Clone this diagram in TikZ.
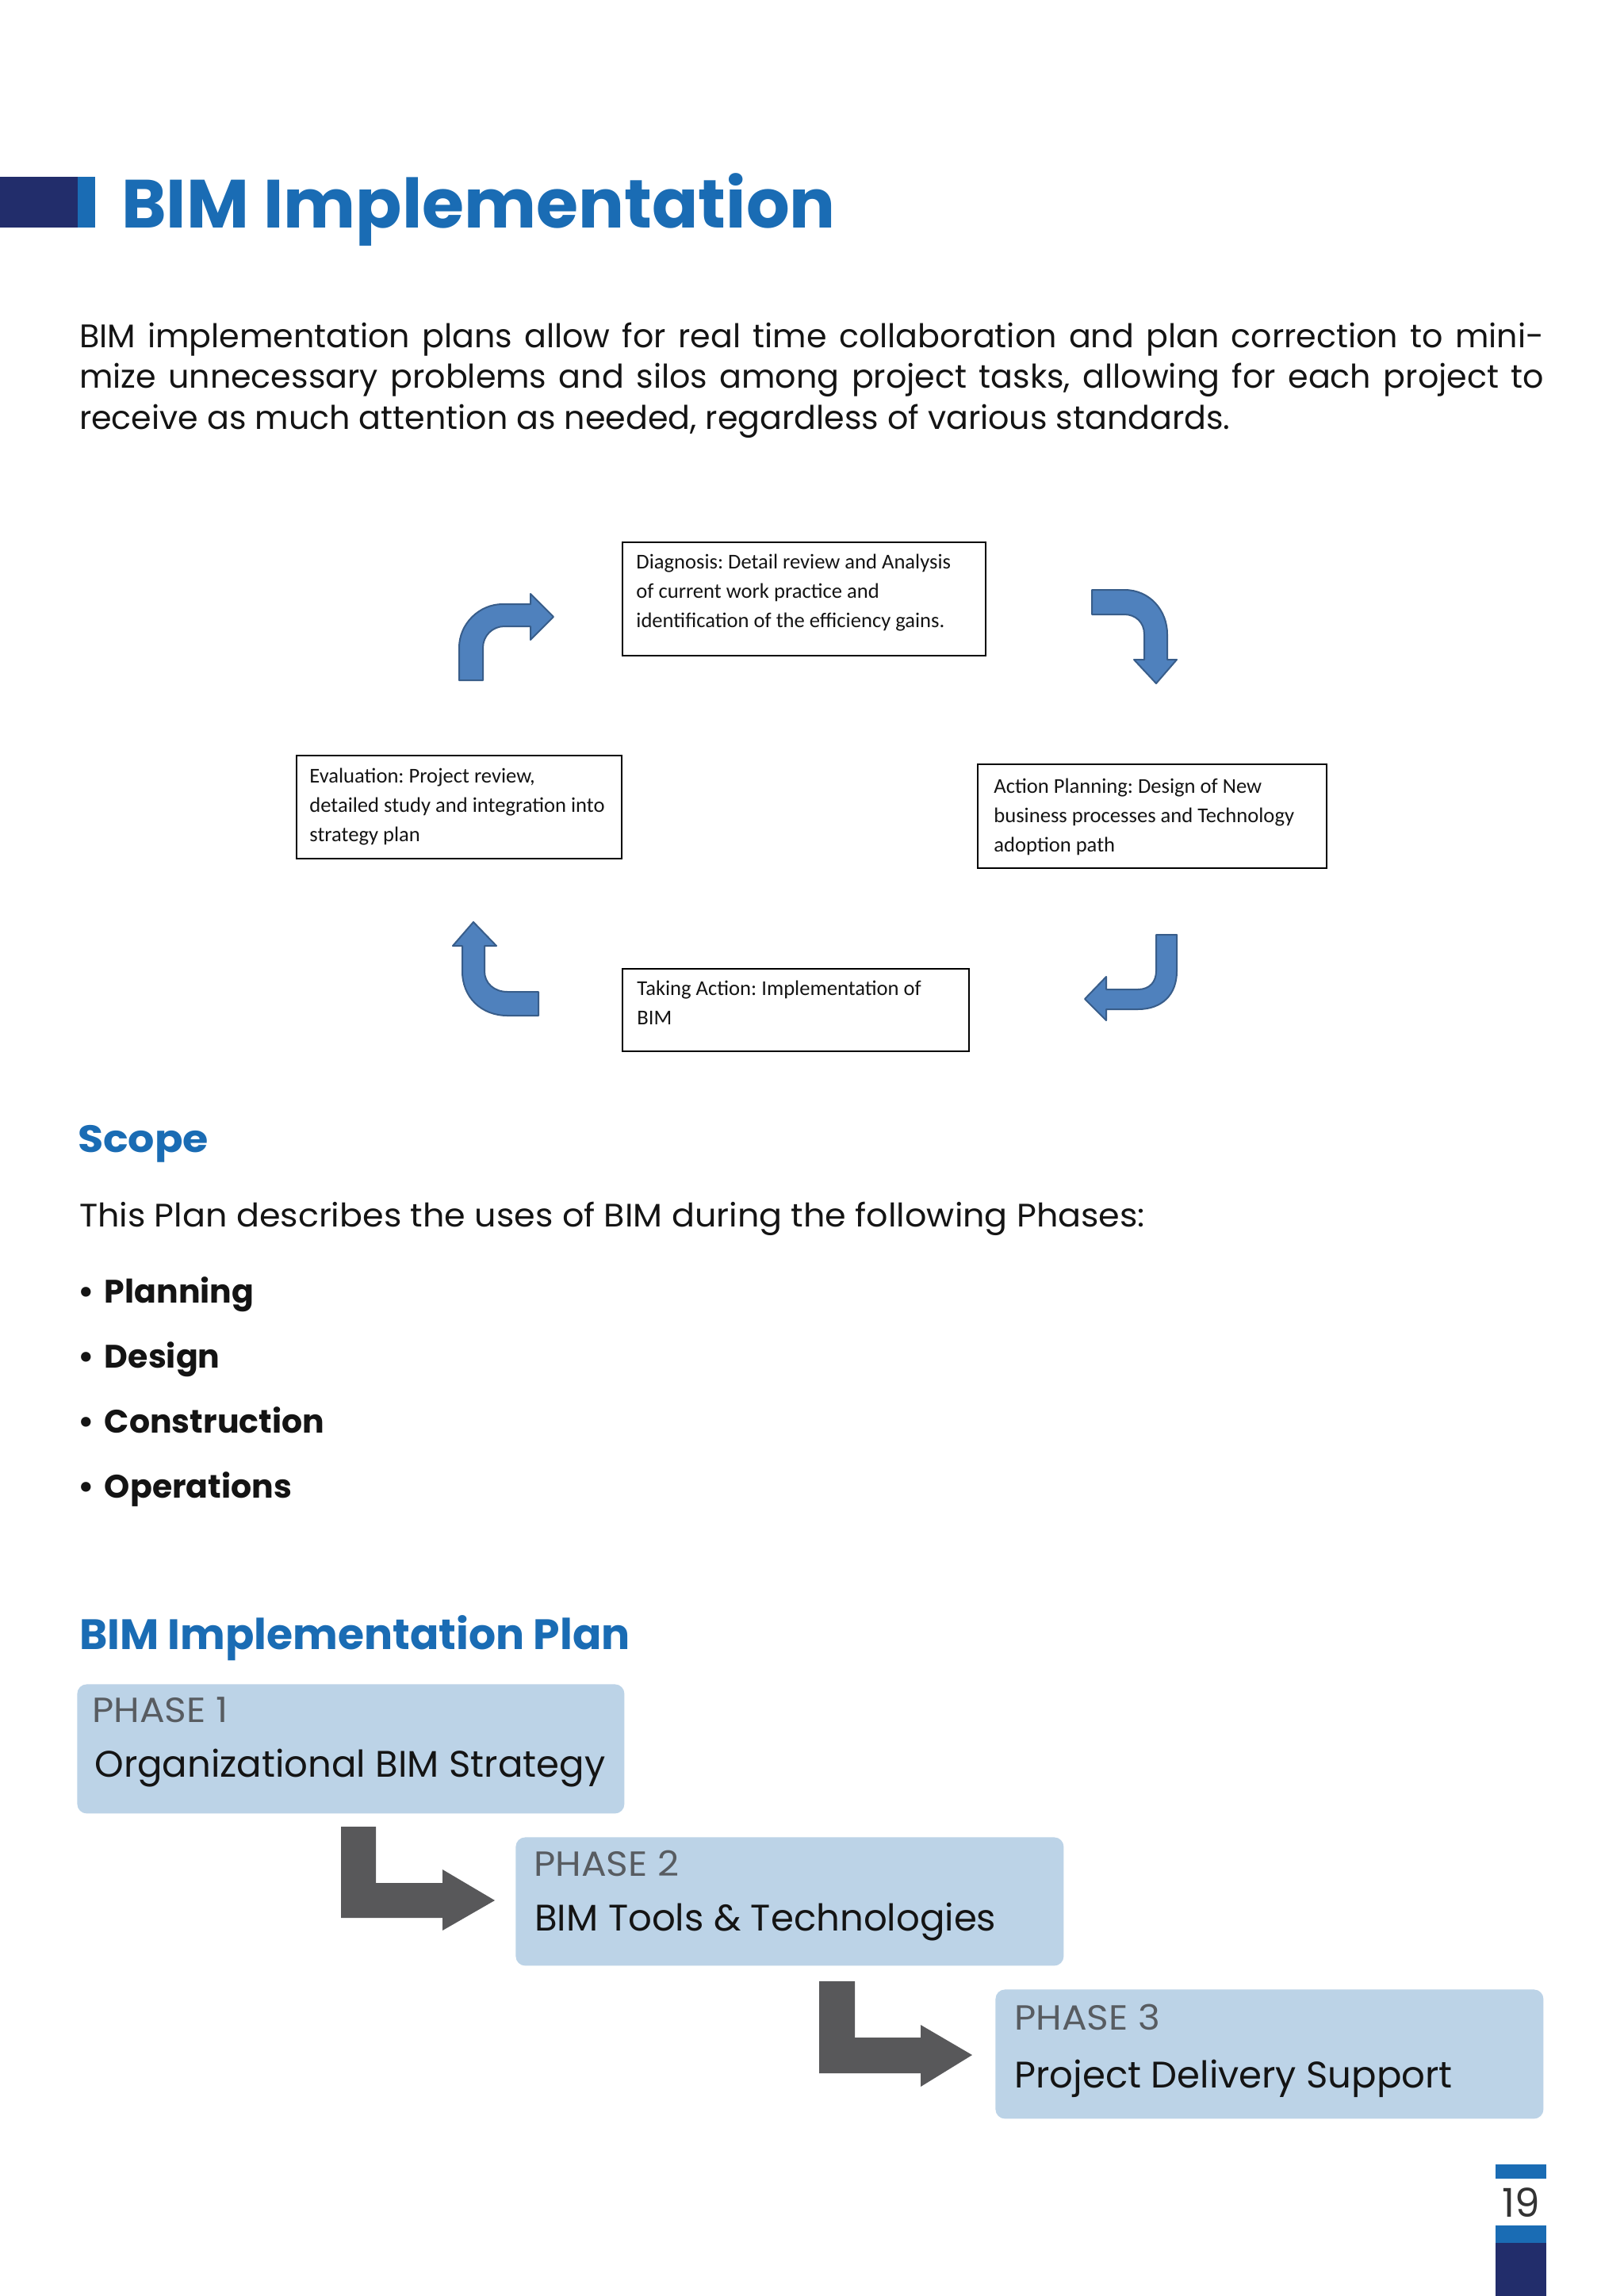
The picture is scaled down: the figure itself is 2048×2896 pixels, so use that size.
\documentclass[tikz,border=0pt]{standalone}
\usepackage{graphicx}
\usepackage{fontspec}
\setmainfont{Poppins}
\newfontfamily\calfont{Carlito}
\definecolor{titleblue}{RGB}{26,108,180}
\definecolor{navy}{RGB}{34,45,107}
\definecolor{txt}{RGB}{20,20,20}
\definecolor{pnumgray}{RGB}{51,51,51}
\definecolor{phasefill}{RGB}{188,211,231}
\definecolor{phasegray}{RGB}{88,92,97}
\definecolor{arrowgray}{RGB}{88,88,90}
\definecolor{cyclefill}{RGB}{79,129,189}
\definecolor{cycledraw}{RGB}{56,93,138}
\newdimen\pxu \pxu=0.5pt
\newcommand\hstretch[2]{\scalebox{#1}[1]{#2}}
\frenchspacing
\begin{document}
\frenchspacing
\begin{tikzpicture}[x=0.5pt,y=-0.5pt,
  txtnode/.style={anchor=base west, inner sep=0pt, outer sep=0pt, text=txt},
  cyclebox/.style={draw=black, line width=2\pxu, fill=white, inner sep=0pt, anchor=north west},
  cycletext/.style={anchor=base west, inner sep=0pt, text=txt, font=\calfont\fontsize{13.3}{18.5}\selectfont},
  cyclearrow/.style={fill=cyclefill, draw=cycledraw, line width=2\pxu, line join=round},
  phasebox/.style={fill=phasefill, rounded corners=12\pxu, inner sep=0pt, anchor=north west},
  phaselabel/.style={anchor=base west, inner sep=0pt, text=phasegray, font=\fontsize{22}{26}\selectfont},
  phasetitle/.style={anchor=base west, inner sep=0pt, text=txt, font=\fontsize{23.3}{28}\selectfont},
  blockarrow/.style={fill=arrowgray},
  bulletitem/.style={txtnode, font=\bfseries\fontsize{20.5}{26}\selectfont},
  heading/.style={txtnode, text=titleblue},
]
\useasboundingbox (0,0) rectangle (2048,2896);
\fill[white] (0,0) rectangle (2048,2896);

% ---- title bar ----
\fill[navy] (0,223) rectangle (98,287);
\fill[titleblue] (98,223) rectangle (120,287);
\node[heading, font=\bfseries\fontsize{43}{50}\selectfont] (title) at (153,287) {BIM Implementation};

% ---- body paragraph ----
\node[txtnode, font=\fontsize{20.6}{25.85}\selectfont] (body) at (100,438) {\parbox[t]{1847\pxu}{%
\hbox to 1847\pxu{BIM implementation plans allow for real time collaboration and plan correction to mini-}%
\hbox to 1847\pxu{mize unnecessary problems and silos among project tasks, allowing for each project to}%
\hbox{receive as much attention as needed, regardless of various standards.}}};

% ---- cycle diagram boxes ----
\node[cyclebox, minimum width=458\pxu, minimum height=143\pxu] (diag) at (784,683) {};
\node[cycletext] (diagt) at (802,717) {\parbox[t]{600\pxu}{Diagnosis: Detail review and Analysis\\of current work practice and\\identification of the efficiency gains.}};

\node[cyclebox, minimum width=410\pxu, minimum height=130\pxu] (eval) at (373,952) {};
\node[cycletext] (evalt) at (390,987) {\parbox[t]{600\pxu}{Evaluation: Project review,\\detailed study and integration into\\strategy plan}};

\node[cyclebox, minimum width=440\pxu, minimum height=131\pxu] (plan) at (1232,963) {};
\node[cycletext] (plant) at (1253,1000) {\parbox[t]{600\pxu}{Action Planning: Design of New\\business processes and Technology\\adoption path}};

\node[cyclebox, minimum width=437\pxu, minimum height=104\pxu] (act) at (784,1221) {};
\node[cycletext] (actt) at (803,1255) {\parbox[t]{600\pxu}{Taking Action: Implementation of\\BIM}};

% ---- cycle arrows ----
% up then right (evaluation -> diagnosis)
\draw[cyclearrow] (579,858) -- (579,817) .. controls (579,787) and (604,762) .. (634,762)
  -- (669,762) -- (669,749) -- (698,778) -- (669,807) -- (669,790) -- (636,790)
  .. controls (621,790) and (609,802) .. (609,817) -- (609,858) -- cycle;
% right then down (diagnosis -> action planning)
\draw[cyclearrow] (1377,744) -- (1418,744) .. controls (1450,744) and (1472,770) .. (1472,800)
  -- (1472,832) -- (1484,832) -- (1458,862) -- (1430,832) -- (1443,832) -- (1443,800)
  .. controls (1443,785) and (1432,775) .. (1418,775) -- (1377,775) -- cycle;
% down then left (action planning -> taking action)
\draw[cyclearrow] (1458,1179) -- (1484,1179) -- (1484,1225) .. controls (1484,1255) and (1465,1273) .. (1435,1273)
  -- (1395,1273) -- (1395,1287) -- (1368,1260) -- (1395,1232) -- (1395,1248) -- (1435,1248)
  .. controls (1450,1248) and (1458,1238) .. (1458,1225) -- cycle;
% left then up (taking action -> evaluation)
\draw[cyclearrow] (679,1251) -- (640,1251) .. controls (623,1251) and (611,1240) .. (611,1225)
  -- (611,1193) -- (626,1193) -- (597,1163) -- (571,1193) -- (583,1193) -- (583,1225)
  .. controls (583,1258) and (607,1281) .. (640,1281) -- (679,1281) -- cycle;

% ---- scope ----
\node[heading, font=\bfseries\fontsize{24}{28}\selectfont] (scope) at (98,1453) {\hstretch{1.09}{Scope}};
\node[txtnode, font=\fontsize{20.5}{25}\selectfont] (intro) at (100,1547) {\hstretch{1.045}{This Plan describes the uses of BIM during the following Phases:}};
\node[bulletitem] (b1) at (98,1643) {\makebox[34\pxu][l]{•}Planning};
\node[bulletitem] (b2) at (98,1725) {\makebox[34\pxu][l]{•}Design};
\node[bulletitem] (b3) at (98,1807) {\makebox[34\pxu][l]{•}Construction};
\node[bulletitem] (b4) at (98,1889) {\makebox[34\pxu][l]{•}Operations};

% ---- implementation plan ----
\node[heading, font=\bfseries\fontsize{26.8}{32}\selectfont] (planh) at (100,2080) {BIM Implementation Plan};

\node[phasebox, minimum width=690\pxu, minimum height=163\pxu] (p1) at (97,2124) {};
\node[phaselabel] (p1l) at (116,2172) {\hstretch{1.07}{PHASE 1}};
\node[phasetitle] (p1t) at (119,2241) {Organizational BIM Strategy};

\node[phasebox, minimum width=691\pxu, minimum height=162\pxu] (p2) at (650,2317) {};
\node[phaselabel] (p2l) at (673,2366) {\hstretch{1.07}{PHASE 2}};
\node[phasetitle] (p2t) at (674,2435) {BIM Tools \& Technologies};

\node[phasebox, minimum width=691\pxu, minimum height=163\pxu] (p3) at (1255,2509) {};
\node[phaselabel] (p3l) at (1279,2560) {\hstretch{1.07}{PHASE 3}};
\node[phasetitle] (p3t) at (1279,2633) {Project Delivery Support};

\fill[blockarrow] (430,2304) -- (474,2304) -- (474,2375) -- (558,2375) -- (558,2358) -- (624,2397)
  -- (558,2435) -- (558,2419) -- (430,2419) -- cycle;
\fill[blockarrow] (1033,2499) -- (1078,2499) -- (1078,2570) -- (1161,2570) -- (1161,2554) -- (1226,2592)
  -- (1161,2632) -- (1161,2615) -- (1033,2615) -- cycle;

% ---- page number ----
\fill[titleblue] (1886,2730) rectangle (1950,2748);
\fill[titleblue] (1886,2807) rectangle (1950,2829);
\fill[navy] (1886,2829) rectangle (1950,2896);
\node[anchor=base, inner sep=0pt, text=pnumgray, font=\fontsize{25}{30}\selectfont] (pnum) at (1918,2796) {19};
\end{tikzpicture}
\end{document}
